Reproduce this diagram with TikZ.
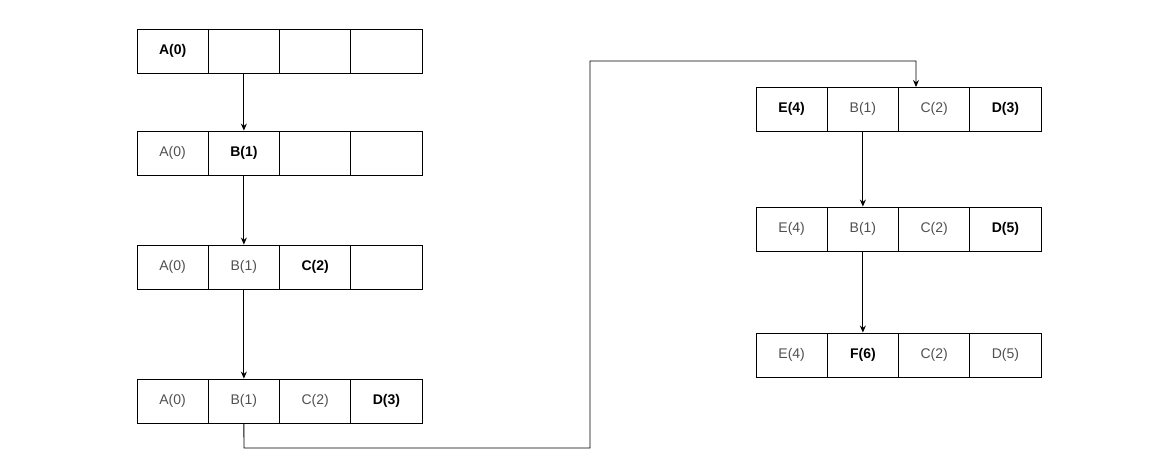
\documentclass[tikz,border=0pt]{standalone}
\usepackage{fontspec}
\setmainfont{Liberation Sans}
\usetikzlibrary{arrows.meta, positioning, calc}
\definecolor{celltext}{RGB}{80,80,80}
\newcommand{\hot}{\bfseries\color{black}}
\tikzset{
    cell/.style={
        rectangle,
        draw=black,
        line width=0.9pt,
        minimum width=71.25pt,
        minimum height=44pt,
        inner sep=0pt,
        text=celltext,
        font=\fontsize{14}{16}\selectfont
    },
    connection/.style={
        draw=black,
        line width=0.9pt,
        -{Stealth[length=7pt,width=6pt]}
    }
}
\begin{document}
\begin{tikzpicture}[x=1pt, y=-1pt]
\useasboundingbox (0,0) rectangle (1174,464);
% left column
\foreach \t [count=\i] in {{\hot A(0)},{},{},{}}
    \node[cell] (La\i) at ({137+71.25*(\i-0.5)},51) {\t};
\foreach \t [count=\i] in {A(0),{\hot B(1)},{},{}}
    \node[cell] (Lb\i) at ({137+71.25*(\i-0.5)},153) {\t};
\foreach \t [count=\i] in {A(0),B(1),{\hot C(2)},{}}
    \node[cell] (Lc\i) at ({137+71.25*(\i-0.5)},267) {\t};
\foreach \t [count=\i] in {A(0),B(1),C(2),{\hot D(3)}}
    \node[cell] (Ld\i) at ({137+71.25*(\i-0.5)},401) {\t};
% right column
\foreach \t [count=\i] in {{\hot E(4)},B(1),C(2),{\hot D(3)}}
    \node[cell] (Ra\i) at ({756+71.25*(\i-0.5)},109) {\t};
\foreach \t [count=\i] in {E(4),B(1),C(2),{\hot D(5)}}
    \node[cell] (Rb\i) at ({756+71.25*(\i-0.5)},229) {\t};
\foreach \t [count=\i] in {E(4),{\hot F(6)},C(2),D(5)}
    \node[cell] (Rc\i) at ({756+71.25*(\i-0.5)},355) {\t};
\coordinate (jump) at (916,87);

\draw[connection] (La2) -- (Lb2);
\draw[connection] (Lb2) -- (Lc2);
\draw[connection] (Lc2) -- (Ld2);
\draw[connection] (Ld2.south) -- (244,448) -- (590,448) -- (590,61) -- (916,61) -- (jump);
\draw[connection] (Ra2) -- (Rb2);
\draw[connection] (Rb2) -- (Rc2);
\end{tikzpicture}
\end{document}
